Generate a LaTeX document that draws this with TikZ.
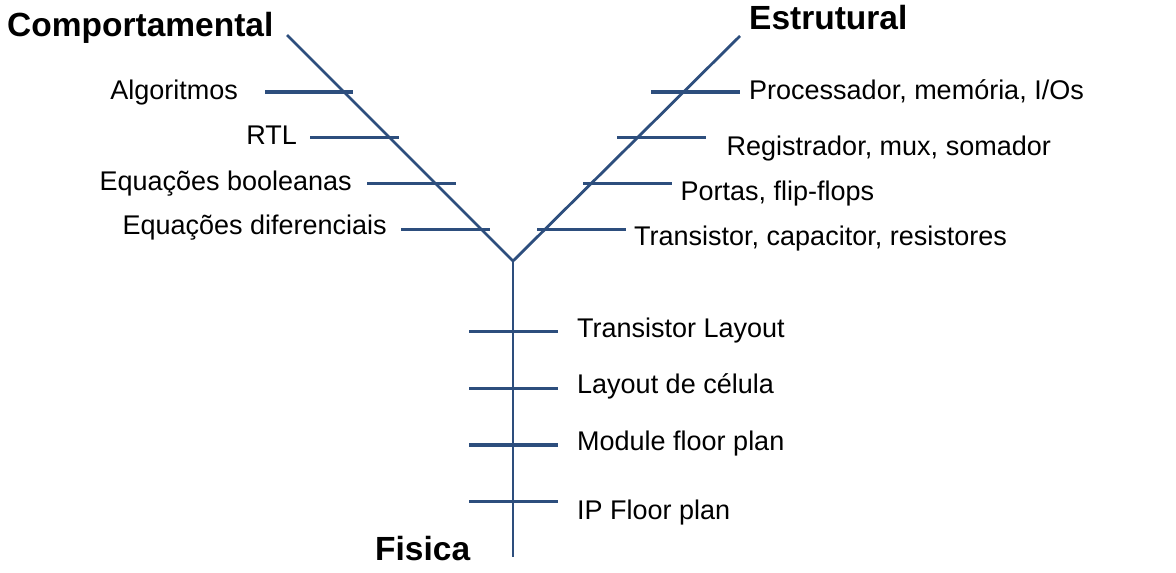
\documentclass[tikz,border=0pt]{standalone}
\usepackage{fontspec}
\setmainfont{Liberation Sans}
\usetikzlibrary{positioning}

\definecolor{ybar}{RGB}{45,78,125}

\begin{document}
\begin{tikzpicture}[
    x=1pt, y=-1pt,
    arm/.style={draw=ybar, line width=2.8pt},
    tick/.style={draw=ybar, line width=3.1pt},
    lbl/.style={inner sep=0pt, font=\fontsize{27}{32}\selectfont},
    title/.style={inner sep=0pt, font=\fontsize{33.5}{40}\selectfont\bfseries},
]
\useasboundingbox (0,0) rectangle (1176,573);

% Y axes
\coordinate (mid) at (513,261);
\coordinate (beh) at (287,35);
\coordinate (str) at (740,36);
\coordinate (phy) at (513,557);
\draw[arm] (beh) -- (mid) -- (str);
\draw[arm] (mid) -- (phy);

% titles
\node[title, anchor=base west] (tbeh) at (7,36) {Comportamental};
\node[title, anchor=base west] (tstr) at (749,29.5) {Estrutural};
\node[title, anchor=base west] (tphy) at (375,560) {Fisica};

% comportamental ticks
\draw[tick] (265,92) -- (353,92);
\draw[tick] (310,137.5) -- (399,137.5);
\draw[tick] (367,183.3) -- (456,183.3);
\draw[tick] (401,229.3) -- (490,229.3);
\node[lbl, anchor=base east] (alg) at (238,99.5) {Algoritmos};
\node[lbl, anchor=base east] (rtl) at (297,144) {RTL};
\node[lbl, anchor=base east] (bool) at (352,190) {Equações booleanas};
\node[lbl, anchor=base east] (dif) at (387,234) {Equações diferenciais};

% estrutural ticks
\draw[tick] (651,92) -- (740,92);
\draw[tick] (617,137.5) -- (706,137.5);
\draw[tick] (583,183.3) -- (672,183.3);
\draw[tick] (537,229.3) -- (626,229.3);
\node[lbl, anchor=base west] (proc) at (749,99) {Processador, memória, I/Os};
\node[lbl, anchor=base west] (reg) at (726.5,155) {Registrador, mux, somador};
\node[lbl, anchor=base west] (gate) at (680.5,200.5) {Portas, flip-flops};
\node[lbl, anchor=base west] (trc) at (634,245) {Transistor, capacitor, resistores};

% fisica ticks
\foreach \yy in {331.5,388.3,445,501.7}
    \draw[tick] (469,\yy) -- (558,\yy);
\node[lbl, anchor=base west] (tlay) at (577,337) {Transistor Layout};
\node[lbl, anchor=base west] (cell) at (577,393) {Layout de célula};
\node[lbl, anchor=base west] (mfp) at (577,450) {Module floor plan};
\node[lbl, anchor=base west] (ipf) at (577,519) {IP Floor plan};

\end{tikzpicture}
\end{document}
